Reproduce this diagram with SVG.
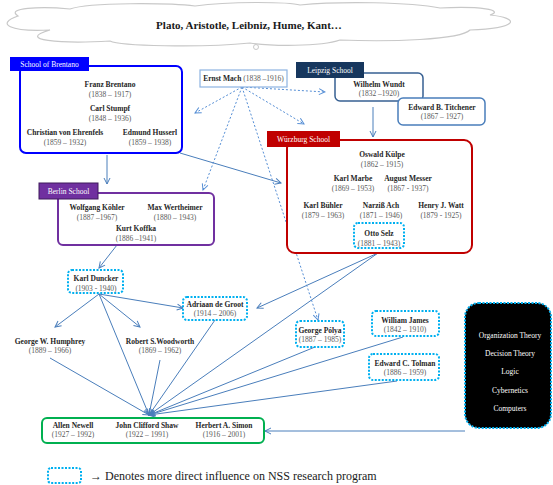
<svg xmlns="http://www.w3.org/2000/svg" width="553" height="485" viewBox="0 0 553 485" font-family="'Liberation Serif', 'Times New Roman', serif">
<style>
text{font-family:"Liberation Serif","Times New Roman",serif;text-anchor:middle}
.n{font-size:7.5px;font-weight:bold;fill:#262626}
.d{font-size:7.5px;fill:#595959}
.w{font-size:7.5px;fill:#ffffff}
.dot{fill:#ffffff;stroke:#00b0f0;stroke-width:2;stroke-dasharray:2 1.5}
.c{stroke:#4a7ebb;stroke-width:1;fill:none}
.cd{stroke:#558ed5;stroke-width:1;fill:none;stroke-dasharray:2 2}
</style>
<defs>
<marker id="a" viewBox="0 0 8 8" refX="7" refY="4" markerWidth="8" markerHeight="8" markerUnits="userSpaceOnUse" orient="auto">
<path d="M1,1 L7,4 L1,7" fill="none" stroke="#4a7ebb" stroke-width="1"/>
</marker>
<marker id="ad" viewBox="0 0 8 8" refX="7" refY="4" markerWidth="8" markerHeight="8" markerUnits="userSpaceOnUse" orient="auto">
<path d="M1,1 L7,4 L1,7" fill="none" stroke="#558ed5" stroke-width="1"/>
</marker>
</defs>
<rect width="553" height="485" fill="#ffffff"/>
<g id="cloud">
<path d="M50,30 C10,32 -5,24 18,16 C5,8 40,6 70,9 C90,2 170,3 195,6 C230,1 290,2 300,5 C340,1 410,2 440,8 C480,6 505,10 490,15 C520,18 520,28 470,30 C460,40 390,42 340,40 C320,47 270,46 250,43 C200,48 120,46 110,41 C60,44 15,40 50,30 Z" fill="#ffffff" stroke="#c8c8c8" stroke-width="1.2"/>
<circle cx="256" cy="47" r="2.5" fill="#ffffff" stroke="#c8c8c8"/>
<text x="249" y="29" font-family="'Liberation Serif', serif" style="font-size:11px;font-weight:bold;fill:#1a1a1a">Plato, Aristotle, Leibniz, Hume, Kant…</text>
</g>
<g id="connectors">
<line class="c" x1="107" y1="155" x2="107" y2="184" marker-end="url(#a)"/>
<line class="c" x1="373" y1="107" x2="373" y2="137" marker-end="url(#a)"/>
<line class="c" x1="180" y1="153" x2="281" y2="183" marker-end="url(#a)"/>
<line class="c" x1="117" y1="245" x2="99" y2="268" marker-end="url(#a)"/>
<line class="c" x1="99" y1="294" x2="55" y2="327" marker-end="url(#a)"/>
<line class="c" x1="99" y1="294" x2="140" y2="327" marker-end="url(#a)"/>
<line class="c" x1="99" y1="294" x2="183" y2="308" marker-end="url(#a)"/>
<line class="c" x1="378" y1="253" x2="257" y2="308" marker-end="url(#a)"/>
<line class="c" x1="50" y1="358" x2="149" y2="415" marker-end="url(#a)"/>
<line class="c" x1="99" y1="294" x2="149" y2="415" marker-end="url(#a)"/>
<line class="c" x1="160" y1="360" x2="149" y2="415" marker-end="url(#a)"/>
<line class="c" x1="215" y1="320" x2="149" y2="415" marker-end="url(#a)"/>
<line class="c" x1="378" y1="253" x2="149" y2="415" marker-end="url(#a)"/>
<line class="c" x1="315" y1="347" x2="149" y2="415" marker-end="url(#a)"/>
<line class="c" x1="403" y1="337" x2="149" y2="415" marker-end="url(#a)"/>
<line class="c" x1="397" y1="381" x2="149" y2="415" marker-end="url(#a)"/>
<line class="c" x1="465" y1="431" x2="265" y2="431" marker-end="url(#a)"/>
<line class="cd" x1="242" y1="87" x2="325" y2="92" marker-end="url(#ad)"/>
<line class="cd" x1="242" y1="87" x2="195" y2="113" marker-end="url(#ad)"/>
<line class="cd" x1="242" y1="87" x2="304" y2="124" marker-end="url(#ad)"/>
<line class="cd" x1="242" y1="87" x2="203" y2="190" marker-end="url(#ad)"/>
<line class="cd" x1="242" y1="87" x2="318" y2="320" marker-end="url(#ad)"/>
</g>
<g id="brentano">
<rect x="20" y="66" width="162" height="87" rx="6" fill="#ffffff" stroke="#0000ff" stroke-width="2"/>
<rect x="10" y="57" width="79" height="14" fill="#0000ff"/>
<text class="w" x="49.5" y="67">School of Brentano</text>
<text class="n" x="110" y="87">Franz Brentano</text>
<text class="d" x="110" y="96.5">(1838 – 1917)</text>
<text class="n" x="110" y="111">Carl Stumpf</text>
<text class="d" x="110" y="120.5">(1848 – 1936)</text>
<text class="n" x="65" y="135">Christian von Ehrenfels</text>
<text class="d" x="65" y="144.5">(1859 – 1932)</text>
<text class="n" x="150" y="135">Edmund Husserl</text>
<text class="d" x="150" y="144.5">(1859 – 1938)</text>
</g>
<g id="mach">
<rect x="200" y="70" width="87" height="17" fill="#ffffff" stroke="#8db3e2" stroke-width="1.2"/>
<text x="243.5" y="81" style="font-size:7.5px"><tspan font-weight="bold" fill="#262626">Ernst Mach</tspan><tspan fill="#595959"> (1838 –1916)</tspan></text>
</g>
<g id="wundt">
<rect x="335" y="73" width="88" height="28" rx="5" fill="#ffffff" stroke="#376092" stroke-width="1.5"/>
<text class="n" x="379" y="87">Wilhelm Wundt</text>
<text class="d" x="379" y="96">(1832 –1920)</text>
</g>
<g id="leipzig">
<rect x="296" y="62" width="68" height="16" fill="#17375e"/>
<text class="w" x="330" y="73">Leipzig School</text>
</g>
<g id="titchener">
<rect x="398" y="98" width="87" height="27" rx="5" fill="#ffffff" stroke="#4a7ebb" stroke-width="1.5"/>
<text class="n" x="442" y="110">Edward B. Titchener</text>
<text class="d" x="442" y="119">(1867 –  1927)</text>
</g>
<g id="wuerzburg">
<rect x="287" y="140" width="185" height="113" rx="8" fill="#ffffff" stroke="#c00000" stroke-width="2"/>
<rect x="267" y="131" width="73" height="16" fill="#c00000"/>
<text class="w" x="303.5" y="142">Würzburg School</text>
<text class="n" x="382" y="157">Oswald Külpe</text>
<text class="d" x="382" y="166.5">(1862 – 1915)</text>
<text class="n" x="353" y="181">Karl Marbe</text>
<text class="d" x="353" y="190.5">(1869 – 1953)</text>
<text class="n" x="408" y="181">August Messer</text>
<text class="d" x="408" y="190.5">(1867 - 1937)</text>
<text class="n" x="323" y="208">Karl Bühler</text>
<text class="d" x="323" y="217.5">(1879 – 1963)</text>
<text class="n" x="381" y="208">Narziß Ach</text>
<text class="d" x="381" y="217.5">(1871 – 1946)</text>
<text class="n" x="441" y="208">Henry J. Watt</text>
<text class="d" x="441" y="217.5">(1879 - 1925)</text>
</g>
<g id="selz">
<rect class="dot" x="354" y="223" width="50" height="25" rx="4"/>
<text class="n" x="379" y="236">Otto Selz</text>
<text class="d" x="379" y="245.5">(1881 – 1943)</text>
</g>
<g id="berlin">
<rect x="58" y="193" width="156" height="52" rx="5" fill="#ffffff" stroke="#7030a0" stroke-width="2"/>
<rect x="39" y="183" width="59" height="16" fill="#7030a0" stroke="#3f1a5c" stroke-width="1"/>
<text class="w" x="68.5" y="194">Berlin School</text>
<text class="n" x="97" y="210">Wolfgang Köhler</text>
<text class="d" x="97" y="219.5">(1887 –1967)</text>
<text class="n" x="175" y="210">Max Wertheimer</text>
<text class="d" x="175" y="219.5">(1880 – 1943)</text>
<text class="n" x="136" y="231">Kurt Koffka</text>
<text class="d" x="136" y="240.5">(1886 –1941)</text>
</g>
<g id="duncker">
<rect class="dot" x="68" y="270" width="55" height="23" rx="4"/>
<text class="n" x="96" y="280.5">Karl Duncker</text>
<text class="d" x="96" y="290.5">(1903 - 1940)</text>
</g>
<g id="humphrey">
<text class="n" x="50" y="343.5">George W. Humphrey</text>
<text class="d" x="50" y="353">(1889 – 1966)</text>
</g>
<g id="woodworth">
<text class="n" x="160" y="343.5">Robert S.Woodworth</text>
<text class="d" x="160" y="353">(1869 – 1962)</text>
</g>
<g id="degroot">
<rect class="dot" x="183" y="297" width="64" height="23" rx="4"/>
<text class="n" x="215" y="306.5">Adriaan de Groot</text>
<text class="d" x="215" y="316">(1914 – 2006)</text>
</g>
<g id="polya">
<rect class="dot" x="296" y="321" width="48" height="26" rx="4"/>
<text class="n" x="320" y="332.5">George Pólya</text>
<text class="d" x="320" y="342">(1887 – 1985)</text>
</g>
<g id="james">
<rect class="dot" x="372" y="311" width="67" height="25" rx="4"/>
<text class="n" x="405" y="322.5">William James</text>
<text class="d" x="405" y="332">(1842 – 1910)</text>
</g>
<g id="tolman">
<rect class="dot" x="369" y="354" width="70" height="26" rx="4"/>
<text class="n" x="405" y="365.5">Edward C. Tolman</text>
<text class="d" x="405" y="375">(1886 – 1959)</text>
</g>
<g id="fields">
<rect x="465" y="303" width="86" height="125" rx="14" fill="#000000" stroke="#00b0f0" stroke-width="2" stroke-dasharray="2 1.5"/>
<text class="w" x="510" y="337.5">Organization Theory</text>
<text class="w" x="510" y="355.5">Decision Theory</text>
<text class="w" x="510" y="373.5">Logic</text>
<text class="w" x="510" y="392.5">Cybernetics</text>
<text class="w" x="510" y="410.5">Computers</text>
</g>
<g id="nss">
<rect x="42" y="418" width="222" height="25" rx="5" fill="#ffffff" stroke="#00b050" stroke-width="2"/>
<text class="n" x="73" y="427.5">Allen Newell</text>
<text class="d" x="73" y="437">(1927 – 1992)</text>
<text class="n" x="147" y="427.5">John Clifford Shaw</text>
<text class="d" x="147" y="437">(1922 – 1991)</text>
<text class="n" x="224" y="427.5">Herbert A. Simon</text>
<text class="d" x="224" y="437">(1916 – 2001)</text>
</g>
<g id="legend">
<rect class="dot" x="48" y="468" width="33" height="15" rx="3"/>
<text x="90" y="480" style="font-size:12px;fill:#1a1a1a;text-anchor:start">→ Denotes more direct influence on NSS research program</text>
</g>
</svg>
